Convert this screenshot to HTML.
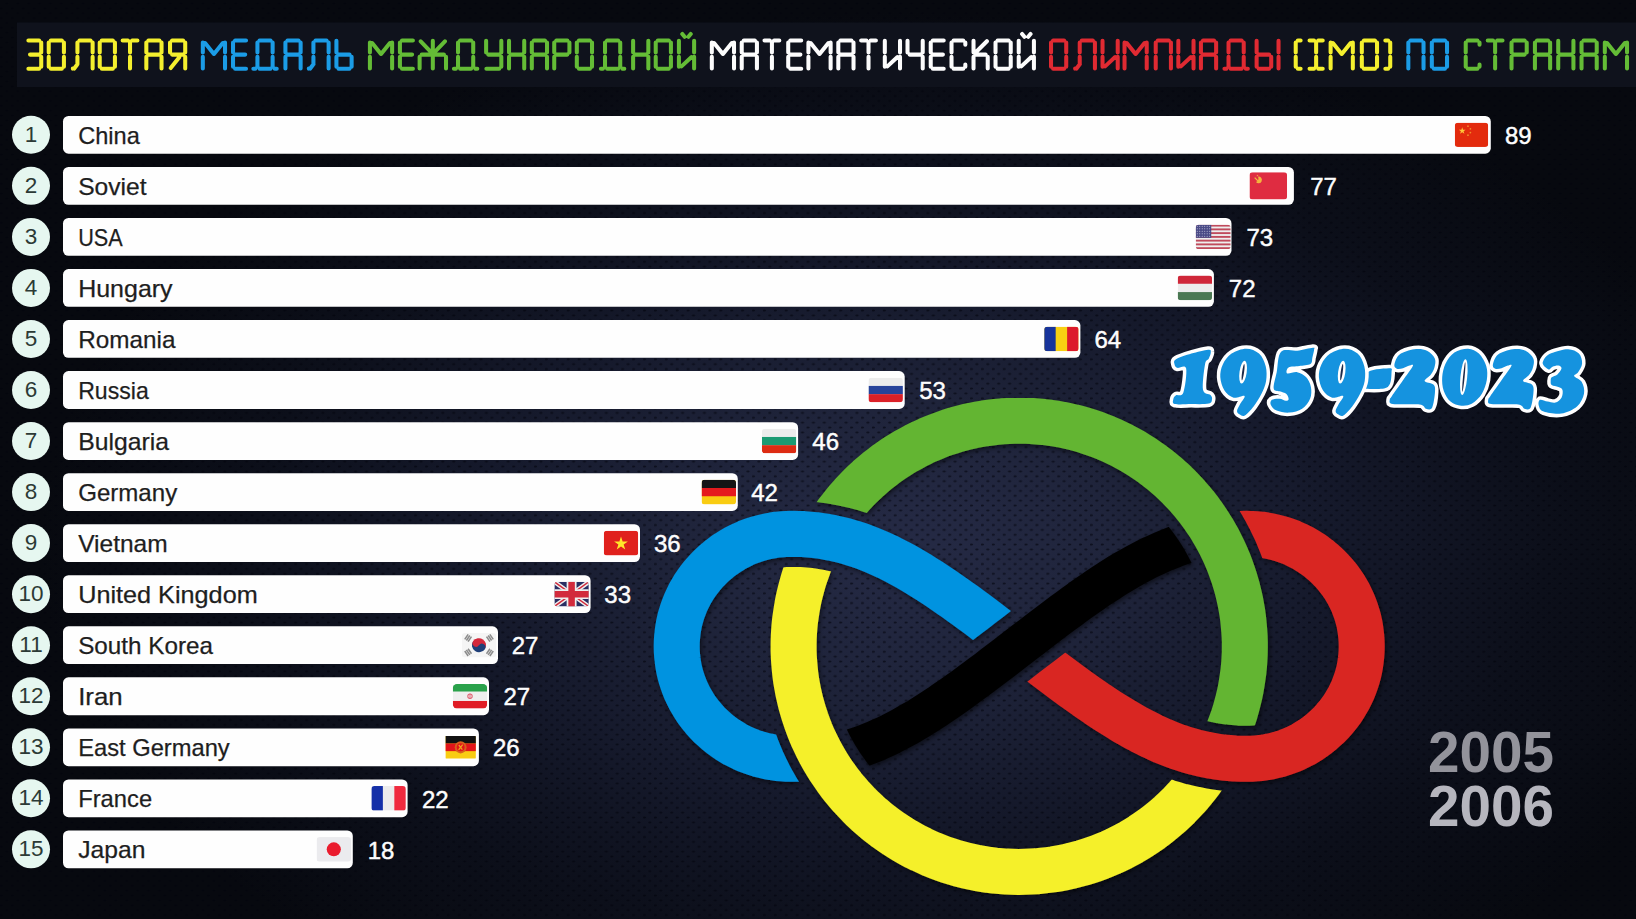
<!DOCTYPE html>
<html><head><meta charset="utf-8"><title>IMO gold medals by country</title>
<style>
html,body{margin:0;padding:0;background:#0a0d16;overflow:hidden}
svg{display:block;font-family:"Liberation Sans",sans-serif}
</style></head><body>
<svg width="1636" height="919" viewBox="0 0 1636 919" role="img">
<title>ЗОЛОТАЯ МЕДАЛЬ МЕЖДУНАРОДНОЙ МАТЕМАТИЧЕСКОЙ ОЛИМПИАДЫ (IMO) ПО СТРАНАМ</title>
<desc>Bar chart race of IMO gold medals by country, 1959-2023. Frame: 2005 / 2006.</desc>

<defs>
<radialGradient id="bgg" cx="900" cy="545" r="860" gradientUnits="userSpaceOnUse" gradientTransform="translate(900 545) scale(1 0.62) translate(-900 -545)">
<stop offset="0" stop-color="#252a45"/>
<stop offset="0.25" stop-color="#1f243b"/>
<stop offset="0.5" stop-color="#15192b"/>
<stop offset="0.75" stop-color="#0c0f1a"/>
<stop offset="1" stop-color="#07090f"/>
</radialGradient>
<pattern id="dots" x="0" y="0" width="10.9" height="9.75" patternUnits="userSpaceOnUse">
<ellipse cx="6.8" cy="3.45" rx="1.7" ry="1.05" fill="#01030c" fill-opacity="0.6"/>
<ellipse cx="1.35" cy="8.3" rx="1.7" ry="1.05" fill="#01030c" fill-opacity="0.6"/>
</pattern>
</defs><rect width="1636" height="919" fill="url(#bgg)"/>
<rect width="1636" height="919" fill="url(#dots)"/>
<rect x="17" y="22.5" width="1619" height="64.5" fill="#0f121c"/>
<defs>
<filter id="lsh" x="-5%" y="-5%" width="110%" height="110%"><feDropShadow dx="1.5" dy="2" stdDeviation="2.5" flood-color="#000" flood-opacity="0.55"/></filter>
<mask id="mGreen" maskUnits="userSpaceOnUse" x="600" y="350" width="850" height="569"><rect x="600" y="350" width="850" height="569" fill="#fff"/><path d="M958.2 600.5L952.5 596.4L946.8 592.5L941.2 588.6L935.6 584.9L930.1 581.3L924.6 577.8L919.1 574.4L913.7 571.1L908.2 567.9L902.8 564.9L897.4 562.0L892.0 559.3L886.7 556.6L881.3 554.1L875.9 551.7L870.5 549.5L865.1 547.4L859.7 545.4L854.2 543.6L848.8 542.0L843.3 540.4L837.7 539.1L832.2 537.9L826.5 536.8L820.9 535.9L815.2 535.1L809.4 534.6L803.6 534.1L797.7 533.9L791.7 533.8L787.0 533.9L782.3 534.2L777.6 534.6L773.0 535.3L768.5 536.1L764.1 537.1L759.7 538.2L755.4 539.5L751.1 541.0L746.9 542.6L742.9 544.4L738.9 546.4L734.9 548.4L731.1 550.7L727.4 553.0L723.8 555.5L720.3 558.1L716.9 560.9L713.6 563.8L710.4 566.7L707.3 569.9L704.4 573.1L701.6 576.4L698.9 579.9L696.3 583.4L693.9 587.0L691.7 590.8L689.5 594.6L687.6 598.5L685.7 602.5L684.1 606.6L682.6 610.7L681.2 615.0L680.0 619.3L679.0 623.6L678.2 628.1" stroke="#000" stroke-width="66.0" fill="none" stroke-linecap="butt" stroke-linejoin="round"/><path d="M1360.2 664.5L1359.4 669.0L1358.4 673.3L1357.2 677.6L1355.8 681.9L1354.3 686.0L1352.7 690.1L1350.8 694.1L1348.9 698.0L1346.7 701.8L1344.5 705.6L1342.1 709.2L1339.5 712.7L1336.8 716.2L1334.0 719.5L1331.1 722.7L1328.0 725.9L1324.8 728.8L1321.5 731.7L1318.1 734.5L1314.6 737.1L1311.0 739.6L1307.3 741.9L1303.5 744.2L1299.5 746.2L1295.5 748.2L1291.5 750.0L1287.3 751.6L1283.0 753.1L1278.7 754.4L1274.3 755.5L1269.9 756.5L1265.4 757.3L1260.8 758.0L1256.1 758.4L1251.4 758.7L1246.7 758.8L1240.7 758.7L1234.8 758.5L1229.0 758.0L1223.2 757.5L1217.5 756.7L1211.9 755.8L1206.2 754.7L1200.7 753.5L1195.1 752.2L1189.6 750.6L1184.2 749.0L1178.7 747.2L1173.3 745.2L1167.9 743.1L1162.5 740.9L1157.1 738.5L1151.7 736.0L1146.4 733.3L1141.0 730.6L1135.6 727.7L1130.2 724.7L1124.7 721.5L1119.3 718.2L1113.8 714.8L1108.3 711.3L1102.8 707.7L1097.2 704.0L1091.6 700.1L1085.9 696.2L1080.2 692.1" stroke="#000" stroke-width="66.0" fill="none" stroke-linecap="butt" stroke-linejoin="round"/></mask>
<mask id="mYellow" maskUnits="userSpaceOnUse" x="600" y="350" width="850" height="569"><rect x="600" y="350" width="850" height="569" fill="#fff"/><path d="M958.2 600.5L952.5 596.4L946.8 592.5L941.2 588.6L935.6 584.9L930.1 581.3L924.6 577.8L919.1 574.4L913.7 571.1L908.2 567.9L902.8 564.9L897.4 562.0L892.0 559.3L886.7 556.6L881.3 554.1L875.9 551.7L870.5 549.5L865.1 547.4L859.7 545.4L854.2 543.6L848.8 542.0L843.3 540.4L837.7 539.1L832.2 537.9L826.5 536.8L820.9 535.9L815.2 535.1L809.4 534.6L803.6 534.1L797.7 533.9L791.7 533.8L787.0 533.9L782.3 534.2L777.6 534.6L773.0 535.3L768.5 536.1L764.1 537.1L759.7 538.2L755.4 539.5L751.1 541.0L746.9 542.6L742.9 544.4L738.9 546.4L734.9 548.4L731.1 550.7L727.4 553.0L723.8 555.5L720.3 558.1L716.9 560.9L713.6 563.8L710.4 566.7L707.3 569.9L704.4 573.1L701.6 576.4L698.9 579.9L696.3 583.4L693.9 587.0L691.7 590.8L689.5 594.6L687.6 598.5L685.7 602.5L684.1 606.6L682.6 610.7L681.2 615.0L680.0 619.3L679.0 623.6L678.2 628.1" stroke="#000" stroke-width="66.0" fill="none" stroke-linecap="butt" stroke-linejoin="round"/><path d="M1360.2 664.5L1359.4 669.0L1358.4 673.3L1357.2 677.6L1355.8 681.9L1354.3 686.0L1352.7 690.1L1350.8 694.1L1348.9 698.0L1346.7 701.8L1344.5 705.6L1342.1 709.2L1339.5 712.7L1336.8 716.2L1334.0 719.5L1331.1 722.7L1328.0 725.9L1324.8 728.8L1321.5 731.7L1318.1 734.5L1314.6 737.1L1311.0 739.6L1307.3 741.9L1303.5 744.2L1299.5 746.2L1295.5 748.2L1291.5 750.0L1287.3 751.6L1283.0 753.1L1278.7 754.4L1274.3 755.5L1269.9 756.5L1265.4 757.3L1260.8 758.0L1256.1 758.4L1251.4 758.7L1246.7 758.8L1240.7 758.7L1234.8 758.5L1229.0 758.0L1223.2 757.5L1217.5 756.7L1211.9 755.8L1206.2 754.7L1200.7 753.5L1195.1 752.2L1189.6 750.6L1184.2 749.0L1178.7 747.2L1173.3 745.2L1167.9 743.1L1162.5 740.9L1157.1 738.5L1151.7 736.0L1146.4 733.3L1141.0 730.6L1135.6 727.7L1130.2 724.7L1124.7 721.5L1119.3 718.2L1113.8 714.8L1108.3 711.3L1102.8 707.7L1097.2 704.0L1091.6 700.1L1085.9 696.2L1080.2 692.1" stroke="#000" stroke-width="66.0" fill="none" stroke-linecap="butt" stroke-linejoin="round"/></mask>
<mask id="mBlue" maskUnits="userSpaceOnUse" x="600" y="350" width="850" height="569"><rect x="600" y="350" width="850" height="569" fill="#fff"/><path d="M837.7 753.5L843.3 752.1L848.9 750.6L854.5 748.9L860.0 747.0L865.5 745.0L871.0 742.9L876.5 740.6L882.0 738.2L887.4 735.6L892.9 732.9L898.4 730.1L903.9 727.1L909.4 724.0L914.9 720.8L920.4 717.4L926.0 714.0L931.6 710.4L937.2 706.7L942.9 702.8L948.6 698.9L954.4 694.9L960.2 690.7L966.1 686.4L972.1 682.1L978.1 677.6L984.2 673.1L990.3 668.4L996.6 663.6L1002.9 658.8L1009.4 653.9L1015.9 648.8L1022.5 643.8L1029.0 638.7L1035.5 633.8L1041.8 629.0L1048.1 624.2L1054.2 619.5L1060.3 615.0L1066.3 610.5L1072.3 606.2L1078.2 601.9L1084.0 597.7L1089.8 593.7L1095.5 589.8L1101.2 585.9L1106.8 582.2L1112.4 578.6L1118.0 575.2L1123.5 571.8L1129.0 568.6L1134.5 565.5L1140.0 562.5L1145.5 559.7L1151.0 557.0L1156.4 554.4L1161.9 552.0L1167.4 549.7L1172.9 547.6L1178.4 545.6L1183.9 543.7L1189.5 542.0L1195.1 540.5L1200.7 539.1" stroke="#000" stroke-width="66.0" fill="none" stroke-linecap="butt" stroke-linejoin="round"/><path d="M794.5 626.6L794.0 632.6L793.7 638.6L793.6 644.7L793.6 650.7L793.8 656.7L794.2 662.7L794.7 668.7L795.4 674.7L796.2 680.6L797.2 686.6L798.4 692.5L799.7 698.3L801.1 704.2L802.8 710.0L804.5 715.7L806.5 721.4L808.5 727.0L810.8 732.6L813.1 738.2L815.7 743.6L818.3 749.0L821.1 754.3L824.1 759.6L827.2 764.7L830.4 769.8L833.8 774.8L837.3 779.7L840.9 784.5L844.6 789.2L848.5 793.8L852.5 798.3L856.6 802.7L860.8 807.0L865.2 811.1L869.6 815.2L874.2 819.1" stroke="#000" stroke-width="66.0" fill="none" stroke-linecap="butt" stroke-linejoin="round"/></mask>
<mask id="mRed" maskUnits="userSpaceOnUse" x="600" y="350" width="850" height="569"><rect x="600" y="350" width="850" height="569" fill="#fff"/><path d="M837.7 753.5L843.3 752.1L848.9 750.6L854.5 748.9L860.0 747.0L865.5 745.0L871.0 742.9L876.5 740.6L882.0 738.2L887.4 735.6L892.9 732.9L898.4 730.1L903.9 727.1L909.4 724.0L914.9 720.8L920.4 717.4L926.0 714.0L931.6 710.4L937.2 706.7L942.9 702.8L948.6 698.9L954.4 694.9L960.2 690.7L966.1 686.4L972.1 682.1L978.1 677.6L984.2 673.1L990.3 668.4L996.6 663.6L1002.9 658.8L1009.4 653.9L1015.9 648.8L1022.5 643.8L1029.0 638.7L1035.5 633.8L1041.8 629.0L1048.1 624.2L1054.2 619.5L1060.3 615.0L1066.3 610.5L1072.3 606.2L1078.2 601.9L1084.0 597.7L1089.8 593.7L1095.5 589.8L1101.2 585.9L1106.8 582.2L1112.4 578.6L1118.0 575.2L1123.5 571.8L1129.0 568.6L1134.5 565.5L1140.0 562.5L1145.5 559.7L1151.0 557.0L1156.4 554.4L1161.9 552.0L1167.4 549.7L1172.9 547.6L1178.4 545.6L1183.9 543.7L1189.5 542.0L1195.1 540.5L1200.7 539.1" stroke="#000" stroke-width="66.0" fill="none" stroke-linecap="butt" stroke-linejoin="round"/><path d="M1164.2 473.5L1168.8 477.4L1173.2 481.5L1177.6 485.6L1181.8 489.9L1185.9 494.3L1189.9 498.8L1193.8 503.4L1197.5 508.1L1201.1 512.9L1204.6 517.8L1208.0 522.8L1211.2 527.9L1214.3 533.0L1217.3 538.3L1220.1 543.6L1222.7 549.0L1225.3 554.4L1227.6 560.0L1229.9 565.6L1231.9 571.2L1233.9 576.9L1235.6 582.6L1237.3 588.4L1238.7 594.3L1240.0 600.1L1241.2 606.0L1242.2 612.0L1243.0 617.9L1243.7 623.9L1244.2 629.9L1244.6 635.9L1244.8 641.9L1244.8 647.9L1244.7 654.0L1244.4 660.0L1243.9 666.0" stroke="#000" stroke-width="66.0" fill="none" stroke-linecap="butt" stroke-linejoin="round"/></mask>
<clipPath id="cBlack"><circle cx="1019.2" cy="646.3" r="191.5"/></clipPath>
</defs>
<g filter="url(#lsh)">
<path d="M818.2 543.9L820.9 538.6L823.8 533.5L826.9 528.4L830.0 523.4L833.3 518.5L836.7 513.6L840.3 508.9L844.0 504.2L847.7 499.7L851.7 495.2L855.7 490.9L859.8 486.6L864.1 482.5L868.4 478.5L872.9 474.6L877.4 470.8L882.1 467.2L886.8 463.6L891.7 460.2L896.6 456.9L901.6 453.8L906.7 450.7L911.9 447.9L917.1 445.1L922.4 442.5L927.8 440.0L933.3 437.7L938.8 435.5L944.3 433.5L949.9 431.6L955.6 429.8L961.3 428.3L967.0 426.8L972.8 425.5L978.6 424.4L984.5 423.4L990.3 422.6L996.2 421.9L1002.1 421.3L1008.0 421.0L1014.0 420.8L1019.9 420.7L1025.8 420.8L1031.7 421.0L1037.6 421.5L1043.5 422.0L1049.4 422.7L1055.3 423.6L1061.1 424.6L1066.9 425.8L1072.7 427.1L1078.4 428.6L1084.1 430.2L1089.7 432.0L1095.3 433.9L1100.9 436.0L1106.4 438.2L1111.8 440.6L1117.2 443.1L1122.5 445.7L1127.7 448.5L1132.9 451.4L1137.9 454.5L1142.9 457.7L1147.8 461.0L1152.7 464.4L1157.4 468.0L1162.0 471.7L1166.6 475.5L1171.0 479.4L1175.3 483.4L1179.5 487.6L1183.6 491.9L1187.6 496.2L1191.5 500.7L1195.3 505.3L1198.9 509.9L1202.4 514.7L1205.8 519.6L1209.1 524.5L1212.2 529.5L1215.2 534.6L1218.1 539.8L1220.8 545.1L1223.4 550.4L1225.9 555.8L1228.2 561.3L1230.3 566.8L1232.3 572.3L1234.2 578.0L1235.9 583.6L1237.5 589.3L1238.9 595.1L1240.2 600.9L1241.3 606.7L1242.3 612.5L1243.1 618.4L1243.7 624.3L1244.2 630.2L1244.6 636.1L1244.8 642.0L1244.8 647.9L1244.7 653.9L1244.4 659.8L1244.0 665.7L1243.4 671.6L1242.6 677.4L1241.7 683.3L1240.7 689.1L1239.5 694.9L1238.1 700.7L1236.6 706.4L1235.0 712.1L1233.2 717.7L1231.2 723.3L1229.1 728.9L1226.9 734.4L1224.5 739.8L1222.0 745.1L1219.3 750.4L1216.5 755.6L1213.6 760.8L1210.5 765.8" stroke="#64b532" stroke-width="46.0" fill="none" stroke-linecap="butt" stroke-linejoin="round" mask="url(#mGreen)"/>
<path d="M827.9 526.8L824.8 531.8L821.9 537.0L819.1 542.2L816.4 547.5L813.9 552.8L811.5 558.2L809.3 563.7L807.2 569.3L805.2 574.9L803.4 580.5L801.8 586.2L800.3 591.9L798.9 597.7L797.7 603.5L796.7 609.3L795.8 615.2L795.0 621.0L794.4 626.9L794.0 632.8L793.7 638.7L793.6 644.7L793.6 650.6L793.8 656.5L794.2 662.4L794.7 668.3L795.3 674.2L796.1 680.1L797.1 685.9L798.2 691.7L799.5 697.5L800.9 703.3L802.5 709.0L804.2 714.6L806.1 720.3L808.1 725.8L810.2 731.3L812.5 736.8L815.0 742.2L817.6 747.5L820.3 752.8L823.2 758.0L826.2 763.1L829.3 768.1L832.6 773.0L836.0 777.9L839.5 782.7L843.1 787.3L846.9 791.9L850.8 796.4L854.8 800.7L858.9 805.0L863.1 809.2L867.4 813.2L871.8 817.1L876.4 820.9L881.0 824.6L885.7 828.2L890.6 831.6L895.5 834.9L900.5 838.1L905.5 841.2L910.7 844.1L915.9 846.9L921.2 849.5L926.6 852.0L932.0 854.4L937.5 856.6L943.1 858.7L948.7 860.6L954.3 862.4L960.0 864.0L965.7 865.5L971.5 866.8L977.3 868.0L983.1 869.0L989.0 869.9L994.9 870.6L1000.8 871.1L1006.7 871.6L1012.6 871.8L1018.5 871.9L1024.4 871.8L1030.4 871.6L1036.3 871.3L1042.2 870.7L1048.1 870.0L1053.9 869.2L1059.8 868.2L1065.6 867.1L1071.4 865.8L1077.1 864.3L1082.8 862.8L1088.5 861.0L1094.1 859.1L1099.6 857.1L1105.1 854.9L1110.6 852.6L1116.0 850.1L1121.3 847.5L1126.5 844.7L1131.7 841.9L1136.8 838.8L1141.8 835.7L1146.7 832.4L1151.6 829.0L1156.3 825.4L1161.0 821.8L1165.5 818.0L1170.0 814.1L1174.3 810.1L1178.6 806.0L1182.7 801.7L1186.7 797.4L1190.7 792.9L1194.4 788.4L1198.1 783.7L1201.7 779.0L1205.1 774.1L1208.4 769.2L1211.5 764.2L1214.6 759.1L1217.5 754.0L1220.2 748.7" stroke="#f5f02a" stroke-width="46.0" fill="none" stroke-linecap="butt" stroke-linejoin="round" mask="url(#mYellow)"/>
<path d="M1019.2 646.3L1012.7 641.3L1006.3 636.4L1000.1 631.6L993.8 626.9L987.7 622.2L981.7 617.7L975.7 613.2L969.8 608.9L964.0 604.6L958.2 600.5L952.5 596.4L946.8 592.5L941.2 588.6L935.6 584.9L930.1 581.3L924.6 577.8L919.1 574.4L913.7 571.1L908.2 567.9L902.8 564.9L897.4 562.0L892.0 559.3L886.7 556.6L881.3 554.1L875.9 551.7L870.5 549.5L865.1 547.4L859.7 545.4L854.2 543.6L848.8 542.0L843.3 540.4L837.7 539.1L832.2 537.9L826.5 536.8L820.9 535.9L815.2 535.1L809.4 534.6L803.6 534.1L797.7 533.9L791.7 533.8L787.0 533.9L782.3 534.2L777.6 534.6L773.0 535.3L768.5 536.1L764.1 537.1L759.7 538.2L755.4 539.5L751.1 541.0L746.9 542.6L742.9 544.4L738.9 546.4L734.9 548.4L731.1 550.7L727.4 553.0L723.8 555.5L720.3 558.1L716.9 560.9L713.6 563.8L710.4 566.7L707.3 569.9L704.4 573.1L701.6 576.4L698.9 579.9L696.3 583.4L693.9 587.0L691.7 590.8L689.5 594.6L687.6 598.5L685.7 602.5L684.1 606.6L682.6 610.7L681.2 615.0L680.0 619.3L679.0 623.6L678.2 628.1L677.6 632.5L677.1 637.1L676.8 641.7L676.7 646.3L676.8 650.9L677.1 655.5L677.6 660.1L678.2 664.5L679.0 669.0L680.0 673.3L681.2 677.6L682.6 681.9L684.1 686.0L685.7 690.1L687.6 694.1L689.5 698.0L691.7 701.8L693.9 705.6L696.3 709.2L698.9 712.7L701.6 716.2L704.4 719.5L707.3 722.7L710.4 725.9L713.6 728.8L716.9 731.7L720.3 734.5L723.8 737.1L727.4 739.6L731.1 741.9L734.9 744.2L738.9 746.2L742.9 748.2L746.9 750.0L751.1 751.6L755.4 753.1L759.7 754.4L764.1 755.5L768.5 756.5L773.0 757.3L777.6 758.0L782.3 758.4L787.0 758.7L791.7 758.8L797.7 758.7L803.6 758.5L809.4 758.0L815.2 757.5L820.9 756.7L826.5 755.8L832.2 754.7L837.7 753.5L843.3 752.2L848.8 750.6L854.2 749.0L859.7 747.2L865.1 745.2L870.5 743.1" stroke="#0393e0" stroke-width="46.0" fill="none" stroke-linecap="butt" stroke-linejoin="round" mask="url(#mBlue)"/>
<path d="M1167.9 549.5L1173.3 547.4L1178.7 545.4L1184.2 543.6L1189.6 542.0L1195.1 540.4L1200.7 539.1L1206.2 537.9L1211.9 536.8L1217.5 535.9L1223.2 535.1L1229.0 534.6L1234.8 534.1L1240.7 533.9L1246.7 533.8L1251.4 533.9L1256.1 534.2L1260.8 534.6L1265.4 535.3L1269.9 536.1L1274.3 537.1L1278.7 538.2L1283.0 539.5L1287.3 541.0L1291.5 542.6L1295.5 544.4L1299.5 546.4L1303.5 548.4L1307.3 550.7L1311.0 553.0L1314.6 555.5L1318.1 558.1L1321.5 560.9L1324.8 563.8L1328.0 566.7L1331.1 569.9L1334.0 573.1L1336.8 576.4L1339.5 579.9L1342.1 583.4L1344.5 587.0L1346.7 590.8L1348.9 594.6L1350.8 598.5L1352.7 602.5L1354.3 606.6L1355.8 610.7L1357.2 615.0L1358.4 619.3L1359.4 623.6L1360.2 628.1L1360.8 632.5L1361.3 637.1L1361.6 641.7L1361.7 646.3L1361.6 650.9L1361.3 655.5L1360.8 660.1L1360.2 664.5L1359.4 669.0L1358.4 673.3L1357.2 677.6L1355.8 681.9L1354.3 686.0L1352.7 690.1L1350.8 694.1L1348.9 698.0L1346.7 701.8L1344.5 705.6L1342.1 709.2L1339.5 712.7L1336.8 716.2L1334.0 719.5L1331.1 722.7L1328.0 725.9L1324.8 728.8L1321.5 731.7L1318.1 734.5L1314.6 737.1L1311.0 739.6L1307.3 741.9L1303.5 744.2L1299.5 746.2L1295.5 748.2L1291.5 750.0L1287.3 751.6L1283.0 753.1L1278.7 754.4L1274.3 755.5L1269.9 756.5L1265.4 757.3L1260.8 758.0L1256.1 758.4L1251.4 758.7L1246.7 758.8L1240.7 758.7L1234.8 758.5L1229.0 758.0L1223.2 757.5L1217.5 756.7L1211.9 755.8L1206.2 754.7L1200.7 753.5L1195.1 752.2L1189.6 750.6L1184.2 749.0L1178.7 747.2L1173.3 745.2L1167.9 743.1L1162.5 740.9L1157.1 738.5L1151.7 736.0L1146.4 733.3L1141.0 730.6L1135.6 727.7L1130.2 724.7L1124.7 721.5L1119.3 718.2L1113.8 714.8L1108.3 711.3L1102.8 707.7L1097.2 704.0L1091.6 700.1L1085.9 696.2L1080.2 692.1L1074.4 688.0L1068.6 683.7L1062.7 679.4L1056.7 674.9L1050.7 670.4L1044.6 665.7L1038.3 661.0L1032.1 656.2L1025.7 651.3L1019.2 646.3" stroke="#d92623" stroke-width="46.0" fill="none" stroke-linecap="butt" stroke-linejoin="round" mask="url(#mRed)"/>
<path d="M819.7 756.9L825.4 756.0L831.1 755.0L836.7 753.8L842.3 752.4L847.8 750.9L853.3 749.3L858.8 747.5L864.3 745.5L869.7 743.4L875.1 741.2L880.5 738.8L886.0 736.3L891.4 733.7L896.8 730.9L902.2 728.0L907.6 725.0L913.1 721.8L918.6 718.6L924.1 715.2L929.6 711.6L935.2 708.0L940.8 704.3L946.4 700.4L952.1 696.4L957.9 692.4L963.7 688.2L969.5 683.9L975.5 679.5L981.5 675.1L987.6 670.5L993.7 665.8L999.9 661.1L1006.3 656.2L1012.7 651.3L1019.2 646.3L1025.7 641.3L1032.1 636.4L1038.5 631.5L1044.7 626.8L1050.8 622.1L1056.9 617.5L1062.9 613.1L1068.9 608.7L1074.7 604.4L1080.5 600.2L1086.3 596.2L1092.0 592.2L1097.6 588.3L1103.2 584.6L1108.8 581.0L1114.3 577.4L1119.8 574.0L1125.3 570.8L1130.8 567.6L1136.2 564.6L1141.6 561.7L1147.0 558.9L1152.4 556.3L1157.9 553.8L1163.3 551.4L1168.7 549.2L1174.1 547.1L1179.6 545.1L1185.1 543.3L1190.6 541.7L1196.1 540.2L1201.7 538.8L1207.3 537.6L1213.0 536.6L1218.7 535.7" stroke="#000000" stroke-width="41.5" fill="none" stroke-linecap="butt" stroke-linejoin="round" clip-path="url(#cBlack)"/>
</g>
<path d="M28.38 40.40L39.12 40.40M41.23 42.50L41.23 52.50M41.23 56.70L41.23 66.70M39.12 68.80L28.38 68.80M30.02 54.60L39.12 54.60M50.83 40.40L61.83 40.40M63.92 42.50L63.92 52.50M63.92 56.70L63.92 66.70M61.83 68.80L50.83 68.80M48.73 66.70L48.73 56.70M48.73 52.50L48.73 42.50M79.53 40.40L90.53 40.40M92.63 42.50L92.63 52.50M92.63 56.70L92.63 68.55M77.43 42.50L77.43 52.50M77.43 56.70L77.43 64.30M77.43 64.30L74.23 68.50M74.23 68.50L72.83 68.60M101.83 40.40L112.83 40.40M114.93 42.50L114.93 52.50M114.93 56.70L114.93 66.70M112.83 68.80L101.83 68.80M99.73 66.70L99.73 56.70M99.73 52.50L99.73 42.50M130.03 42.50L130.03 52.50M130.03 56.70L130.03 68.55M122.63 40.40L127.93 40.40M132.12 40.40L137.43 40.40M148.43 40.40L159.43 40.40M161.53 42.50L161.53 52.50M161.53 56.70L161.53 68.55M146.33 42.50L146.33 52.50M146.33 56.70L146.33 68.55M148.43 54.60L159.43 54.60M172.12 40.40L183.12 40.40M185.22 42.50L185.22 52.50M185.22 56.70L185.22 68.55M170.03 42.50L170.03 52.50M172.12 54.60L183.12 54.60M179.31 57.14L170.70 68.03" stroke="#f4ef2e" stroke-width="4.05" stroke-linecap="round" fill="none"/>
<path d="M202.83 42.50L202.83 52.50M202.83 56.70L202.83 68.55M225.03 42.50L225.03 52.50M225.03 56.70L225.03 68.55M205.05 43.03L213.67 53.79M222.80 43.03L214.18 53.79M233.03 42.50L233.03 52.50M233.03 56.70L233.03 66.70M235.12 40.40L246.03 40.40M235.12 68.80L246.03 68.80M235.12 54.60L245.22 54.60M259.53 40.40L270.53 40.40M272.62 42.50L272.62 52.50M272.62 56.70L272.62 66.70M257.43 42.50L257.43 52.50M257.43 56.70L257.43 66.70M259.53 68.80L270.53 68.80M253.33 68.80L255.33 68.80M274.73 68.80L276.73 68.80M287.52 40.40L298.52 40.40M300.62 42.50L300.62 52.50M300.62 56.70L300.62 68.55M285.42 42.50L285.42 52.50M285.42 56.70L285.42 68.55M287.52 54.60L298.52 54.60M315.52 40.40L326.52 40.40M328.62 42.50L328.62 52.50M328.62 56.70L328.62 68.55M313.42 42.50L313.42 52.50M313.42 56.70L313.42 64.30M313.42 64.30L310.22 68.50M310.22 68.50L308.82 68.60M336.42 40.65L336.42 52.50M336.42 56.70L336.42 66.70M338.52 54.60L349.52 54.60M351.62 56.70L351.62 66.70M349.52 68.80L338.52 68.80" stroke="#1b9ce6" stroke-width="4.05" stroke-linecap="round" fill="none"/>
<path d="M369.92 42.50L369.92 52.50M369.92 56.70L369.92 68.55M392.12 42.50L392.12 52.50M392.12 56.70L392.12 68.55M372.15 43.03L380.77 53.79M389.90 43.03L381.28 53.79M399.92 42.50L399.92 52.50M399.92 56.70L399.92 66.70M402.02 40.40L412.92 40.40M402.02 68.80L412.92 68.80M402.02 54.60L412.12 54.60M432.82 40.70L432.82 52.50M419.62 56.70L419.62 68.55M432.82 56.70L432.82 68.55M446.02 56.70L446.02 68.55M421.73 54.60L430.73 54.60M434.93 54.60L443.93 54.60M420.72 41.32L431.03 52.12M444.93 41.32L434.62 52.12M460.12 40.40L471.12 40.40M473.22 42.50L473.22 52.50M473.22 56.70L473.22 66.70M458.02 42.50L458.02 52.50M458.02 56.70L458.02 66.70M460.12 68.80L471.12 68.80M453.92 68.80L455.92 68.80M475.32 68.80L477.32 68.80M486.12 40.65L486.12 52.50M488.23 54.60L499.23 54.60M501.32 40.65L501.32 52.50M501.32 56.70L501.32 66.70M499.23 68.80L486.38 68.80M509.02 40.65L509.02 52.50M509.02 56.70L509.02 68.55M524.23 40.65L524.23 52.50M524.23 56.70L524.23 68.55M511.12 54.60L522.12 54.60M533.92 40.40L544.92 40.40M547.02 42.50L547.02 52.50M547.02 56.70L547.02 68.55M531.82 42.50L531.82 52.50M531.82 56.70L531.82 68.55M533.92 54.60L544.92 54.60M556.33 40.40L567.33 40.40M569.43 42.50L569.43 52.50M556.33 54.60L567.33 54.60M554.23 42.50L554.23 52.50M554.23 56.70L554.23 68.55M578.92 40.40L589.92 40.40M592.02 42.50L592.02 52.50M592.02 56.70L592.02 66.70M589.92 68.80L578.92 68.80M576.82 66.70L576.82 56.70M576.82 52.50L576.82 42.50M607.12 40.40L618.12 40.40M620.23 42.50L620.23 52.50M620.23 56.70L620.23 66.70M605.02 42.50L605.02 52.50M605.02 56.70L605.02 66.70M607.12 68.80L618.12 68.80M600.92 68.80L602.92 68.80M622.32 68.80L624.32 68.80M633.12 40.65L633.12 52.50M633.12 56.70L633.12 68.55M648.33 40.65L648.33 52.50M648.33 56.70L648.33 68.55M635.23 54.60L646.23 54.60M657.83 40.40L668.83 40.40M670.93 42.50L670.93 52.50M670.93 56.70L670.93 66.70M668.83 68.80L657.83 68.80M655.73 66.70L655.73 56.70M655.73 52.50L655.73 42.50M678.92 40.65L678.92 52.50M678.92 56.70L678.92 66.70M694.12 40.65L694.12 52.50M694.12 56.70L694.12 68.55M681.49 66.37L691.56 57.03M682.32 34.00L684.62 36.80M690.72 34.00L688.42 36.80" stroke="#64bc36" stroke-width="4.05" stroke-linecap="round" fill="none"/>
<path d="M711.82 42.50L711.82 52.50M711.82 56.70L711.82 68.55M734.02 42.50L734.02 52.50M734.02 56.70L734.02 68.55M714.05 43.03L722.67 53.79M731.80 43.03L723.18 53.79M743.83 40.40L754.83 40.40M756.93 42.50L756.93 52.50M756.93 56.70L756.93 68.55M741.73 42.50L741.73 52.50M741.73 56.70L741.73 68.55M743.83 54.60L754.83 54.60M771.92 42.50L771.92 52.50M771.92 56.70L771.92 68.55M764.52 40.40L769.82 40.40M774.02 40.40L779.32 40.40M788.23 42.50L788.23 52.50M788.23 56.70L788.23 66.70M790.33 40.40L801.23 40.40M790.33 68.80L801.23 68.80M790.33 54.60L800.43 54.60M808.42 42.50L808.42 52.50M808.42 56.70L808.42 68.55M830.62 42.50L830.62 52.50M830.62 56.70L830.62 68.55M810.65 43.03L819.27 53.79M828.40 43.03L819.78 53.79M840.42 40.40L851.42 40.40M853.52 42.50L853.52 52.50M853.52 56.70L853.52 68.55M838.32 42.50L838.32 52.50M838.32 56.70L838.32 68.55M840.42 54.60L851.42 54.60M868.52 42.50L868.52 52.50M868.52 56.70L868.52 68.55M861.12 40.40L866.42 40.40M870.62 40.40L875.92 40.40M884.82 40.65L884.82 52.50M884.82 56.70L884.82 66.70M900.02 40.65L900.02 52.50M900.02 56.70L900.02 68.55M887.39 66.37L897.46 57.03M907.52 40.65L907.52 52.50M909.62 54.60L920.62 54.60M922.73 40.65L922.73 52.50M922.73 56.70L922.73 68.55M930.73 42.50L930.73 52.50M930.73 56.70L930.73 66.70M932.83 40.40L943.73 40.40M932.83 68.80L943.73 68.80M932.83 54.60L942.93 54.60M953.62 40.40L963.23 40.40M951.52 42.50L951.52 52.50M951.52 56.70L951.52 66.70M953.62 68.80L963.23 68.80M965.32 42.50L965.32 44.70M965.32 66.70L965.32 64.50M973.52 40.65L973.52 52.50M973.52 56.70L973.52 68.55M975.62 54.60L985.62 54.60M987.73 56.70L987.73 68.55M986.90 41.22L976.36 51.76M997.62 40.40L1008.62 40.40M1010.73 42.50L1010.73 52.50M1010.73 56.70L1010.73 66.70M1008.62 68.80L997.62 68.80M995.52 66.70L995.52 56.70M995.52 52.50L995.52 42.50M1018.73 40.65L1018.73 52.50M1018.73 56.70L1018.73 66.70M1033.92 40.65L1033.92 52.50M1033.92 56.70L1033.92 68.55M1021.29 66.37L1031.36 57.03M1022.12 34.00L1024.42 36.80M1030.53 34.00L1028.22 36.80" stroke="#fcfcfc" stroke-width="4.05" stroke-linecap="round" fill="none"/>
<path d="M1053.12 40.40L1064.12 40.40M1066.23 42.50L1066.23 52.50M1066.23 56.70L1066.23 66.70M1064.12 68.80L1053.12 68.80M1051.03 66.70L1051.03 56.70M1051.03 52.50L1051.03 42.50M1081.83 40.40L1092.83 40.40M1094.93 42.50L1094.93 52.50M1094.93 56.70L1094.93 68.55M1079.73 42.50L1079.73 52.50M1079.73 56.70L1079.73 64.30M1079.73 64.30L1076.53 68.50M1076.53 68.50L1075.13 68.60M1102.53 40.65L1102.53 52.50M1102.53 56.70L1102.53 66.70M1117.73 40.65L1117.73 52.50M1117.73 56.70L1117.73 68.55M1105.09 66.37L1115.16 57.03M1124.53 42.50L1124.53 52.50M1124.53 56.70L1124.53 68.55M1146.73 42.50L1146.73 52.50M1146.73 56.70L1146.73 68.55M1126.75 43.03L1135.37 53.79M1144.50 43.03L1135.88 53.79M1157.83 40.40L1168.83 40.40M1155.73 42.50L1155.73 52.50M1155.73 56.70L1155.73 68.55M1170.93 42.50L1170.93 52.50M1170.93 56.70L1170.93 68.55M1178.33 40.65L1178.33 52.50M1178.33 56.70L1178.33 66.70M1193.53 40.65L1193.53 52.50M1193.53 56.70L1193.53 68.55M1180.89 66.37L1190.96 57.03M1203.03 40.40L1214.03 40.40M1216.13 42.50L1216.13 52.50M1216.13 56.70L1216.13 68.55M1200.93 42.50L1200.93 52.50M1200.93 56.70L1200.93 68.55M1203.03 54.60L1214.03 54.60M1230.62 40.40L1241.62 40.40M1243.73 42.50L1243.73 52.50M1243.73 56.70L1243.73 66.70M1228.53 42.50L1228.53 52.50M1228.53 56.70L1228.53 66.70M1230.62 68.80L1241.62 68.80M1224.43 68.80L1226.43 68.80M1245.83 68.80L1247.83 68.80M1256.62 40.65L1256.62 52.50M1256.62 56.70L1256.62 66.70M1258.72 54.60L1269.12 54.60M1271.22 56.70L1271.22 66.70M1269.12 68.80L1258.72 68.80M1278.53 40.70L1278.53 52.50M1278.53 56.70L1278.53 68.50" stroke="#e02a32" stroke-width="4.05" stroke-linecap="round" fill="none"/>
<path d="M1295.73 42.50L1295.73 52.50M1295.73 56.70L1295.73 66.70M1297.83 40.40L1300.63 40.40M1297.83 68.80L1300.63 68.80M1316.13 42.50L1316.13 52.50M1316.13 56.70L1316.13 66.70M1309.53 40.40L1314.03 40.40M1318.23 40.40L1322.73 40.40M1309.53 68.80L1314.03 68.80M1318.23 68.80L1322.73 68.80M1330.62 42.50L1330.62 52.50M1330.62 56.70L1330.62 68.55M1352.83 42.50L1352.83 52.50M1352.83 56.70L1352.83 68.55M1332.85 43.03L1341.47 53.79M1350.60 43.03L1341.98 53.79M1363.92 40.40L1374.92 40.40M1377.03 42.50L1377.03 52.50M1377.03 56.70L1377.03 66.70M1374.92 68.80L1363.92 68.80M1361.83 66.70L1361.83 56.70M1361.83 52.50L1361.83 42.50M1390.23 42.50L1390.23 52.50M1390.23 56.70L1390.23 66.70M1388.12 40.40L1385.33 40.40M1388.12 68.80L1385.33 68.80" stroke="#f4ef2e" stroke-width="4.05" stroke-linecap="round" fill="none"/>
<path d="M1410.42 40.40L1421.42 40.40M1408.33 42.50L1408.33 52.50M1408.33 56.70L1408.33 68.55M1423.53 42.50L1423.53 52.50M1423.53 56.70L1423.53 68.55M1433.92 40.40L1444.92 40.40M1447.03 42.50L1447.03 52.50M1447.03 56.70L1447.03 66.70M1444.92 68.80L1433.92 68.80M1431.83 66.70L1431.83 56.70M1431.83 52.50L1431.83 42.50" stroke="#1b9ce6" stroke-width="4.05" stroke-linecap="round" fill="none"/>
<path d="M1467.83 40.40L1477.43 40.40M1465.73 42.50L1465.73 52.50M1465.73 56.70L1465.73 66.70M1467.83 68.80L1477.43 68.80M1479.53 42.50L1479.53 44.70M1479.53 66.70L1479.53 64.50M1495.12 42.50L1495.12 52.50M1495.12 56.70L1495.12 68.55M1487.73 40.40L1493.03 40.40M1497.23 40.40L1502.53 40.40M1513.62 40.40L1524.62 40.40M1526.73 42.50L1526.73 52.50M1513.62 54.60L1524.62 54.60M1511.53 42.50L1511.53 52.50M1511.53 56.70L1511.53 68.55M1537.03 40.40L1548.03 40.40M1550.13 42.50L1550.13 52.50M1550.13 56.70L1550.13 68.55M1534.93 42.50L1534.93 52.50M1534.93 56.70L1534.93 68.55M1537.03 54.60L1548.03 54.60M1558.23 40.65L1558.23 52.50M1558.23 56.70L1558.23 68.55M1573.43 40.65L1573.43 52.50M1573.43 56.70L1573.43 68.55M1560.33 54.60L1571.33 54.60M1583.62 40.40L1594.62 40.40M1596.73 42.50L1596.73 52.50M1596.73 56.70L1596.73 68.55M1581.53 42.50L1581.53 52.50M1581.53 56.70L1581.53 68.55M1583.62 54.60L1594.62 54.60M1604.83 42.50L1604.83 52.50M1604.83 56.70L1604.83 68.55M1627.03 42.50L1627.03 52.50M1627.03 56.70L1627.03 68.55M1607.05 43.03L1615.67 53.79M1624.80 43.03L1616.18 53.79" stroke="#64bc36" stroke-width="4.05" stroke-linecap="round" fill="none"/>
<circle cx="31" cy="134.80" r="19" fill="#e6f7f0"/>
<text x="31" y="141.75" text-anchor="middle" font-size="22.5" fill="#2c3a35">1</text>
<rect x="63.0" y="115.90" width="1427.8" height="37.8" rx="5.5" fill="#fefefe"/>
<text x="78.2" y="143.90" font-size="23.6" fill="#1e1e1e" stroke="#1e1e1e" stroke-width="0.25" textLength="61.6" lengthAdjust="spacingAndGlyphs">China</text>
<text x="1504.9" y="144.00" font-size="24" fill="#fdfdfd" stroke="#fdfdfd" stroke-width="0.45">89</text>
<circle cx="31" cy="185.84" r="19" fill="#e6f7f0"/>
<text x="31" y="192.79" text-anchor="middle" font-size="22.5" fill="#2c3a35">2</text>
<rect x="63.0" y="166.94" width="1230.9" height="37.8" rx="5.5" fill="#fefefe"/>
<text x="78.2" y="194.94" font-size="23.6" fill="#1e1e1e" stroke="#1e1e1e" stroke-width="0.25" textLength="68.4" lengthAdjust="spacingAndGlyphs">Soviet</text>
<text x="1310.2" y="195.04" font-size="24" fill="#fdfdfd" stroke="#fdfdfd" stroke-width="0.45">77</text>
<circle cx="31" cy="236.88" r="19" fill="#e6f7f0"/>
<text x="31" y="243.83" text-anchor="middle" font-size="22.5" fill="#2c3a35">3</text>
<rect x="63.0" y="217.98" width="1168.5" height="37.8" rx="5.5" fill="#fefefe"/>
<text x="78.2" y="245.98" font-size="23.6" fill="#1e1e1e" stroke="#1e1e1e" stroke-width="0.25" textLength="44.5" lengthAdjust="spacingAndGlyphs">USA</text>
<text x="1246.4" y="246.08" font-size="24" fill="#fdfdfd" stroke="#fdfdfd" stroke-width="0.45">73</text>
<circle cx="31" cy="287.92" r="19" fill="#e6f7f0"/>
<text x="31" y="294.87" text-anchor="middle" font-size="22.5" fill="#2c3a35">4</text>
<rect x="63.0" y="269.02" width="1150.9" height="37.8" rx="5.5" fill="#fefefe"/>
<text x="78.2" y="297.02" font-size="23.6" fill="#1e1e1e" stroke="#1e1e1e" stroke-width="0.25" textLength="94.4" lengthAdjust="spacingAndGlyphs">Hungary</text>
<text x="1228.8" y="297.12" font-size="24" fill="#fdfdfd" stroke="#fdfdfd" stroke-width="0.45">72</text>
<circle cx="31" cy="338.96" r="19" fill="#e6f7f0"/>
<text x="31" y="345.91" text-anchor="middle" font-size="22.5" fill="#2c3a35">5</text>
<rect x="63.0" y="320.06" width="1017.4" height="37.8" rx="5.5" fill="#fefefe"/>
<text x="78.2" y="348.06" font-size="23.6" fill="#1e1e1e" stroke="#1e1e1e" stroke-width="0.25" textLength="97.2" lengthAdjust="spacingAndGlyphs">Romania</text>
<text x="1094.5" y="348.16" font-size="24" fill="#fdfdfd" stroke="#fdfdfd" stroke-width="0.45">64</text>
<circle cx="31" cy="390.00" r="19" fill="#e6f7f0"/>
<text x="31" y="396.95" text-anchor="middle" font-size="22.5" fill="#2c3a35">6</text>
<rect x="63.0" y="371.10" width="841.7" height="37.8" rx="5.5" fill="#fefefe"/>
<text x="78.2" y="399.10" font-size="23.6" fill="#1e1e1e" stroke="#1e1e1e" stroke-width="0.25" textLength="70.6" lengthAdjust="spacingAndGlyphs">Russia</text>
<text x="919.2" y="399.20" font-size="24" fill="#fdfdfd" stroke="#fdfdfd" stroke-width="0.45">53</text>
<circle cx="31" cy="441.04" r="19" fill="#e6f7f0"/>
<text x="31" y="447.99" text-anchor="middle" font-size="22.5" fill="#2c3a35">7</text>
<rect x="63.0" y="422.14" width="735.1" height="37.8" rx="5.5" fill="#fefefe"/>
<text x="78.2" y="450.14" font-size="23.6" fill="#1e1e1e" stroke="#1e1e1e" stroke-width="0.25" textLength="90.7" lengthAdjust="spacingAndGlyphs">Bulgaria</text>
<text x="812.3" y="450.24" font-size="24" fill="#fdfdfd" stroke="#fdfdfd" stroke-width="0.45">46</text>
<circle cx="31" cy="492.08" r="19" fill="#e6f7f0"/>
<text x="31" y="499.03" text-anchor="middle" font-size="22.5" fill="#2c3a35">8</text>
<rect x="63.0" y="473.18" width="674.8" height="37.8" rx="5.5" fill="#fefefe"/>
<text x="78.2" y="501.18" font-size="23.6" fill="#1e1e1e" stroke="#1e1e1e" stroke-width="0.25" textLength="99.0" lengthAdjust="spacingAndGlyphs">Germany</text>
<text x="751.2" y="501.28" font-size="24" fill="#fdfdfd" stroke="#fdfdfd" stroke-width="0.45">42</text>
<circle cx="31" cy="543.12" r="19" fill="#e6f7f0"/>
<text x="31" y="550.07" text-anchor="middle" font-size="22.5" fill="#2c3a35">9</text>
<rect x="63.0" y="524.22" width="577.0" height="37.8" rx="5.5" fill="#fefefe"/>
<text x="78.2" y="552.22" font-size="23.6" fill="#1e1e1e" stroke="#1e1e1e" stroke-width="0.25" textLength="89.5" lengthAdjust="spacingAndGlyphs">Vietnam</text>
<text x="654.0" y="552.32" font-size="24" fill="#fdfdfd" stroke="#fdfdfd" stroke-width="0.45">36</text>
<circle cx="31" cy="594.16" r="19" fill="#e6f7f0"/>
<text x="31" y="601.11" text-anchor="middle" font-size="22.5" fill="#2c3a35">10</text>
<rect x="63.0" y="575.26" width="527.6" height="37.8" rx="5.5" fill="#fefefe"/>
<text x="78.2" y="603.26" font-size="23.6" fill="#1e1e1e" stroke="#1e1e1e" stroke-width="0.25" textLength="179.5" lengthAdjust="spacingAndGlyphs">United Kingdom</text>
<text x="604.3" y="603.36" font-size="24" fill="#fdfdfd" stroke="#fdfdfd" stroke-width="0.45">33</text>
<circle cx="31" cy="645.20" r="19" fill="#e6f7f0"/>
<text x="31" y="652.15" text-anchor="middle" font-size="22.5" fill="#2c3a35">11</text>
<rect x="63.0" y="626.30" width="435.0" height="37.8" rx="5.5" fill="#fefefe"/>
<text x="78.2" y="654.30" font-size="23.6" fill="#1e1e1e" stroke="#1e1e1e" stroke-width="0.25" textLength="134.8" lengthAdjust="spacingAndGlyphs">South Korea</text>
<text x="511.7" y="654.40" font-size="24" fill="#fdfdfd" stroke="#fdfdfd" stroke-width="0.45">27</text>
<circle cx="31" cy="696.24" r="19" fill="#e6f7f0"/>
<text x="31" y="703.19" text-anchor="middle" font-size="22.5" fill="#2c3a35">12</text>
<rect x="63.0" y="677.34" width="426.0" height="37.8" rx="5.5" fill="#fefefe"/>
<text x="78.2" y="705.34" font-size="23.6" fill="#1e1e1e" stroke="#1e1e1e" stroke-width="0.25" textLength="44.5" lengthAdjust="spacingAndGlyphs">Iran</text>
<text x="503.5" y="705.44" font-size="24" fill="#fdfdfd" stroke="#fdfdfd" stroke-width="0.45">27</text>
<circle cx="31" cy="747.28" r="19" fill="#e6f7f0"/>
<text x="31" y="754.23" text-anchor="middle" font-size="22.5" fill="#2c3a35">13</text>
<rect x="63.0" y="728.38" width="415.9" height="37.8" rx="5.5" fill="#fefefe"/>
<text x="78.2" y="756.38" font-size="23.6" fill="#1e1e1e" stroke="#1e1e1e" stroke-width="0.25" textLength="151.5" lengthAdjust="spacingAndGlyphs">East Germany</text>
<text x="492.9" y="756.48" font-size="24" fill="#fdfdfd" stroke="#fdfdfd" stroke-width="0.45">26</text>
<circle cx="31" cy="798.32" r="19" fill="#e6f7f0"/>
<text x="31" y="805.27" text-anchor="middle" font-size="22.5" fill="#2c3a35">14</text>
<rect x="63.0" y="779.42" width="344.6" height="37.8" rx="5.5" fill="#fefefe"/>
<text x="78.2" y="807.42" font-size="23.6" fill="#1e1e1e" stroke="#1e1e1e" stroke-width="0.25" textLength="73.9" lengthAdjust="spacingAndGlyphs">France</text>
<text x="421.9" y="807.52" font-size="24" fill="#fdfdfd" stroke="#fdfdfd" stroke-width="0.45">22</text>
<circle cx="31" cy="849.36" r="19" fill="#e6f7f0"/>
<text x="31" y="856.31" text-anchor="middle" font-size="22.5" fill="#2c3a35">15</text>
<rect x="63.0" y="830.46" width="289.8" height="37.8" rx="5.5" fill="#fefefe"/>
<text x="78.2" y="858.46" font-size="23.6" fill="#1e1e1e" stroke="#1e1e1e" stroke-width="0.25" textLength="67.2" lengthAdjust="spacingAndGlyphs">Japan</text>
<text x="367.7" y="858.56" font-size="24" fill="#fdfdfd" stroke="#fdfdfd" stroke-width="0.45">18</text>
<g transform="translate(1454.80 122.65) scale(0.9278 0.9346)"><clipPath id="fc0"><rect width="36" height="26" rx="3.45" ry="3.42"/></clipPath><g clip-path="url(#fc0)"><rect width="36" height="26" fill="#e32b0d"/><polygon points="8.00,4.90 8.88,7.59 11.71,7.59 9.42,9.26 10.29,11.96 8.00,10.29 5.71,11.96 6.58,9.26 4.29,7.59 7.12,7.59" fill="#ffc63a"/><circle cx="14.2" cy="3.8" r="0.95" fill="#f08a2a"/><circle cx="16.8" cy="6.6" r="0.95" fill="#f08a2a"/><circle cx="16.8" cy="10.6" r="0.95" fill="#f08a2a"/><circle cx="14.2" cy="13.4" r="0.95" fill="#f08a2a"/></g></g>
<g transform="translate(1249.50 172.24) scale(1.0444 1.0462)"><clipPath id="fc1"><rect width="36" height="26" rx="3.06" ry="3.06"/></clipPath><g clip-path="url(#fc1)"><rect width="36" height="26" fill="#df2c41"/><path d="M6.2 9.4A3.2 3.2 0 1 0 8.2 4.2A4.2 4.2 0 0 1 6.2 9.4Z" fill="#f3b53e"/><path d="M5 5.2L9.6 9.8" stroke="#f3b53e" stroke-width="1.2"/><polygon points="7.60,2.10 7.85,2.86 8.65,2.86 8.00,3.33 8.25,4.09 7.60,3.62 6.95,4.09 7.20,3.33 6.55,2.86 7.35,2.86" fill="#f3b53e"/></g></g>
<g transform="translate(1195.70 224.68) scale(0.9722 0.9385)"><clipPath id="fc2"><rect width="36" height="26" rx="3.29" ry="3.41"/></clipPath><g clip-path="url(#fc2)"><rect width="36" height="26" fill="#eeeeee"/><rect y="0.00" width="36" height="2" fill="#c04a5c"/><rect y="4.00" width="36" height="2" fill="#c04a5c"/><rect y="8.00" width="36" height="2" fill="#c04a5c"/><rect y="12.00" width="36" height="2" fill="#c04a5c"/><rect y="16.00" width="36" height="2" fill="#c04a5c"/><rect y="20.00" width="36" height="2" fill="#c04a5c"/><rect y="24.00" width="36" height="2" fill="#c04a5c"/><rect width="16" height="14" fill="#4a4a86"/><circle cx="1.60" cy="1.60" r="0.55" fill="#c9c9de"/><circle cx="4.15" cy="1.60" r="0.55" fill="#c9c9de"/><circle cx="6.70" cy="1.60" r="0.55" fill="#c9c9de"/><circle cx="9.25" cy="1.60" r="0.55" fill="#c9c9de"/><circle cx="11.80" cy="1.60" r="0.55" fill="#c9c9de"/><circle cx="14.35" cy="1.60" r="0.55" fill="#c9c9de"/><circle cx="1.60" cy="4.30" r="0.55" fill="#c9c9de"/><circle cx="4.15" cy="4.30" r="0.55" fill="#c9c9de"/><circle cx="6.70" cy="4.30" r="0.55" fill="#c9c9de"/><circle cx="9.25" cy="4.30" r="0.55" fill="#c9c9de"/><circle cx="11.80" cy="4.30" r="0.55" fill="#c9c9de"/><circle cx="14.35" cy="4.30" r="0.55" fill="#c9c9de"/><circle cx="1.60" cy="7.00" r="0.55" fill="#c9c9de"/><circle cx="4.15" cy="7.00" r="0.55" fill="#c9c9de"/><circle cx="6.70" cy="7.00" r="0.55" fill="#c9c9de"/><circle cx="9.25" cy="7.00" r="0.55" fill="#c9c9de"/><circle cx="11.80" cy="7.00" r="0.55" fill="#c9c9de"/><circle cx="14.35" cy="7.00" r="0.55" fill="#c9c9de"/><circle cx="1.60" cy="9.70" r="0.55" fill="#c9c9de"/><circle cx="4.15" cy="9.70" r="0.55" fill="#c9c9de"/><circle cx="6.70" cy="9.70" r="0.55" fill="#c9c9de"/><circle cx="9.25" cy="9.70" r="0.55" fill="#c9c9de"/><circle cx="11.80" cy="9.70" r="0.55" fill="#c9c9de"/><circle cx="14.35" cy="9.70" r="0.55" fill="#c9c9de"/><circle cx="1.60" cy="12.40" r="0.55" fill="#c9c9de"/><circle cx="4.15" cy="12.40" r="0.55" fill="#c9c9de"/><circle cx="6.70" cy="12.40" r="0.55" fill="#c9c9de"/><circle cx="9.25" cy="12.40" r="0.55" fill="#c9c9de"/><circle cx="11.80" cy="12.40" r="0.55" fill="#c9c9de"/><circle cx="14.35" cy="12.40" r="0.55" fill="#c9c9de"/></g></g>
<g transform="translate(1177.70 275.62) scale(0.9556 0.9462)"><clipPath id="fc3"><rect width="36" height="26" rx="3.35" ry="3.38"/></clipPath><g clip-path="url(#fc3)"><rect width="36" height="26" fill="#ececec"/><rect width="36" height="8.6" fill="#cf2739"/><rect y="17.4" width="36" height="8.6" fill="#4a7853"/></g></g>
<g transform="translate(1044.20 326.66) scale(0.9556 0.9462)"><clipPath id="fc4"><rect width="36" height="26" rx="3.35" ry="3.38"/></clipPath><g clip-path="url(#fc4)"><rect width="36" height="26" fill="#f8d012"/><rect width="12" height="26" fill="#17349b"/><rect x="24" width="12" height="26" fill="#dc1a2b"/></g></g>
<g transform="translate(868.50 377.70) scale(0.9556 0.9462)"><clipPath id="fc5"><rect width="36" height="26" rx="3.35" ry="3.38"/></clipPath><g clip-path="url(#fc5)"><rect width="36" height="26" fill="#ececec"/><rect y="8.7" width="36" height="8.8" fill="#27439a"/><rect y="17.4" width="36" height="8.6" fill="#db2028"/></g></g>
<g transform="translate(761.90 428.74) scale(0.9556 0.9462)"><clipPath id="fc6"><rect width="36" height="26" rx="3.35" ry="3.38"/></clipPath><g clip-path="url(#fc6)"><rect width="36" height="26" fill="#ececec"/><rect y="8.7" width="36" height="8.8" fill="#1b9a72"/><rect y="17.4" width="36" height="8.6" fill="#dd2b12"/></g></g>
<g transform="translate(701.60 479.78) scale(0.9556 0.9462)"><clipPath id="fc7"><rect width="36" height="26" rx="3.35" ry="3.38"/></clipPath><g clip-path="url(#fc7)"><rect width="36" height="26" fill="#f9cc12"/><rect width="36" height="8.7" fill="#151515"/><rect y="8.7" width="36" height="8.7" fill="#e51a1e"/></g></g>
<g transform="translate(603.80 530.82) scale(0.9556 0.9462)"><clipPath id="fc8"><rect width="36" height="26" rx="3.35" ry="3.38"/></clipPath><g clip-path="url(#fc8)"><rect width="36" height="26" fill="#e0211d"/><polygon points="18.00,6.00 19.71,11.25 25.23,11.25 20.76,14.50 22.47,19.75 18.00,16.50 13.53,19.75 15.24,14.50 10.77,11.25 16.29,11.25" fill="#ffe62a"/></g></g>
<g transform="translate(554.40 581.86) scale(0.9556 0.9462)"><clipPath id="fc9"><rect width="36" height="26" rx="3.35" ry="3.38"/></clipPath><g clip-path="url(#fc9)"><rect width="36" height="26" fill="#2a2e63"/><path d="M0 0L36 26M36 0L0 26" stroke="#eeeeee" stroke-width="4.6"/><path d="M0 0L36 26M36 0L0 26" stroke="#d22a3c" stroke-width="1.5"/><path d="M18 0V26M0 13H36" stroke="#eeeeee" stroke-width="10.4"/><path d="M18 0V26M0 13H36" stroke="#d22a3c" stroke-width="6.8"/></g></g>
<g transform="translate(461.80 632.90) scale(0.9556 0.9462)"><clipPath id="fc10"><rect width="36" height="26" rx="3.35" ry="3.38"/></clipPath><g clip-path="url(#fc10)"><rect width="36" height="26" fill="#f5f5f5"/><g transform="rotate(33.7 18 13)"><path d="M10.6 13a7.4 7.4 0 0 1 14.8 0z" fill="#d4283c"/><path d="M10.6 13a7.4 7.4 0 0 0 14.8 0z" fill="#1f3f78"/><circle cx="14.3" cy="13" r="3.7" fill="#d4283c"/><circle cx="21.7" cy="13" r="3.7" fill="#1f3f78"/></g><g transform="translate(6.6 5.4) rotate(-56)"><rect x="-3.2" y="-2.9" width="6.4" height="1.6" fill="#8c8c8c"/><rect x="-3.2" y="-0.8" width="6.4" height="1.6" fill="#8c8c8c"/><rect x="-3.2" y="1.3" width="6.4" height="1.6" fill="#8c8c8c"/></g><g transform="translate(29.4 5.4) rotate(56)"><rect x="-3.2" y="-2.9" width="6.4" height="1.6" fill="#8c8c8c"/><rect x="-3.2" y="-0.8" width="6.4" height="1.6" fill="#8c8c8c"/><rect x="-3.2" y="1.3" width="6.4" height="1.6" fill="#8c8c8c"/></g><g transform="translate(6.6 20.6) rotate(56)"><rect x="-3.2" y="-2.9" width="6.4" height="1.6" fill="#8c8c8c"/><rect x="-3.2" y="-0.8" width="6.4" height="1.6" fill="#8c8c8c"/><rect x="-3.2" y="1.3" width="6.4" height="1.6" fill="#8c8c8c"/></g><g transform="translate(29.4 20.6) rotate(-56)"><rect x="-3.2" y="-2.9" width="6.4" height="1.6" fill="#8c8c8c"/><rect x="-3.2" y="-0.8" width="6.4" height="1.6" fill="#8c8c8c"/><rect x="-3.2" y="1.3" width="6.4" height="1.6" fill="#8c8c8c"/></g></g></g>
<g transform="translate(452.80 683.94) scale(0.9556 0.9462)"><clipPath id="fc11"><rect width="36" height="26" rx="4.40" ry="4.44"/></clipPath><g clip-path="url(#fc11)"><rect width="36" height="26" fill="#efefef"/><rect width="36" height="8" fill="#2aa24b"/><rect y="18" width="36" height="8" fill="#e01c25"/><circle cx="18" cy="13" r="2.3" fill="none" stroke="#df6070" stroke-width="1.1"/><path d="M18 10.4V15.8" stroke="#df6070" stroke-width="1"/></g></g>
<g transform="translate(445.40 735.88) scale(0.8472 0.8769)"><clipPath id="fc12"><rect width="36" height="26" rx="0.71" ry="0.68"/></clipPath><g clip-path="url(#fc12)"><rect width="36" height="26" fill="#f9cc12"/><rect width="36" height="8.7" fill="#111"/><rect y="8.7" width="36" height="8.7" fill="#e2141a"/><circle cx="18" cy="13" r="7.0" fill="#d9601c"/><circle cx="18" cy="13" r="4.6" fill="#e2141a"/><path d="M15.6 16L20.4 10M15.8 10.4L20 15.6" stroke="#f0a01a" stroke-width="1.5"/></g></g>
<g transform="translate(371.40 786.02) scale(0.9556 0.9462)"><clipPath id="fc13"><rect width="36" height="26" rx="3.35" ry="3.38"/></clipPath><g clip-path="url(#fc13)"><rect width="36" height="26" fill="#ececec"/><rect width="12" height="26" fill="#1530a8"/><rect x="24" width="12" height="26" fill="#f02a3e"/></g></g>
<g transform="translate(316.60 837.06) scale(0.9556 0.9462)"><clipPath id="fc14"><rect width="36" height="26" rx="3.35" ry="3.38"/></clipPath><g clip-path="url(#fc14)"><rect width="36" height="26" fill="#ebebee"/><circle cx="18" cy="13" r="7.4" fill="#ea1c2e"/></g></g>
<g stroke-linejoin="round" stroke-linecap="round">
<path d="M1368.5 371.7C1372.8 368.7 1386.9 368.5 1390.8 368.3C1394.6 368.1 1392.2 367.2 1391.7 370.3C1391.2 373.4 1392.1 383.8 1387.8 386.9C1383.5 390.0 1369.6 388.7 1365.8 388.7C1361.9 388.6 1364.3 389.5 1364.8 386.7C1365.3 383.9 1364.2 374.8 1368.5 371.7Z" fill="#ffffff" stroke="#ffffff" stroke-width="7.0"/><path d="M1368.5 371.7C1372.8 368.7 1386.9 368.5 1390.8 368.3C1394.6 368.1 1392.2 367.2 1391.7 370.3C1391.2 373.4 1392.1 383.8 1387.8 386.9C1383.5 390.0 1369.6 388.7 1365.8 388.7C1361.9 388.6 1364.3 389.5 1364.8 386.7C1365.3 383.9 1364.2 374.8 1368.5 371.7Z" fill="#1593df"/>
<path d="M1174.5 364.2C1174.3 362.8 1173.1 361.1 1176.0 359.3C1178.8 357.5 1186.1 355.2 1191.4 353.6C1196.8 352.0 1204.9 350.0 1208.1 349.7C1211.3 349.4 1210.7 350.4 1210.8 351.8C1211.0 353.3 1209.8 356.4 1208.8 358.5C1207.8 360.6 1205.9 359.2 1205.0 364.4C1204.0 369.6 1202.1 384.8 1203.0 389.8C1203.9 394.9 1209.0 393.4 1210.5 394.9C1212.0 396.5 1212.3 397.7 1212.0 399.2C1211.7 400.6 1212.2 402.7 1208.8 403.6C1205.4 404.4 1197.1 404.1 1191.4 404.1C1185.8 404.2 1177.8 404.9 1174.8 404.0C1171.8 403.2 1173.1 400.6 1173.3 399.2C1173.5 397.7 1174.3 396.3 1176.0 395.2C1177.6 394.2 1181.6 397.3 1183.3 392.8C1185.0 388.3 1187.1 372.5 1186.1 368.3C1185.0 364.1 1179.2 368.5 1177.2 367.8C1175.3 367.1 1174.7 365.6 1174.5 364.2Z" fill="#ffffff" stroke="#ffffff" stroke-width="7.0"/><path d="M1174.5 364.2C1174.3 362.8 1173.1 361.1 1176.0 359.3C1178.8 357.5 1186.1 355.2 1191.4 353.6C1196.8 352.0 1204.9 350.0 1208.1 349.7C1211.3 349.4 1210.7 350.4 1210.8 351.8C1211.0 353.3 1209.8 356.4 1208.8 358.5C1207.8 360.6 1205.9 359.2 1205.0 364.4C1204.0 369.6 1202.1 384.8 1203.0 389.8C1203.9 394.9 1209.0 393.4 1210.5 394.9C1212.0 396.5 1212.3 397.7 1212.0 399.2C1211.7 400.6 1212.2 402.7 1208.8 403.6C1205.4 404.4 1197.1 404.1 1191.4 404.1C1185.8 404.2 1177.8 404.9 1174.8 404.0C1171.8 403.2 1173.1 400.6 1173.3 399.2C1173.5 397.7 1174.3 396.3 1176.0 395.2C1177.6 394.2 1181.6 397.3 1183.3 392.8C1185.0 388.3 1187.1 372.5 1186.1 368.3C1185.0 364.1 1179.2 368.5 1177.2 367.8C1175.3 367.1 1174.7 365.6 1174.5 364.2Z" fill="#1593df"/>
<path d="M1246.3 348.7C1250.9 348.7 1255.8 350.7 1259.0 353.6C1262.3 356.5 1264.5 361.8 1265.7 366.3C1266.9 370.9 1266.8 376.5 1266.1 381.0C1265.4 385.6 1263.5 389.5 1261.5 393.8C1259.4 398.0 1256.4 402.9 1253.6 406.5C1250.9 410.1 1247.1 414.2 1244.8 415.5C1242.5 416.8 1241.2 415.3 1239.9 414.5C1238.6 413.8 1236.9 412.7 1237.0 410.9C1237.1 409.1 1239.2 406.1 1240.4 403.6C1241.7 401.1 1245.7 396.9 1244.5 395.9C1243.4 394.9 1236.9 398.6 1233.6 397.7C1230.2 396.8 1226.5 393.8 1224.3 390.3C1222.1 386.9 1220.6 381.4 1220.3 377.1C1220.1 372.8 1220.9 368.3 1222.8 364.4C1224.7 360.5 1227.7 356.2 1231.6 353.6C1235.5 351.0 1241.7 348.7 1246.3 348.7Z" fill="#ffffff" stroke="#ffffff" stroke-width="7.0"/><path d="M1246.3 348.7C1250.9 348.7 1255.8 350.7 1259.0 353.6C1262.3 356.5 1264.5 361.8 1265.7 366.3C1266.9 370.9 1266.8 376.5 1266.1 381.0C1265.4 385.6 1263.5 389.5 1261.5 393.8C1259.4 398.0 1256.4 402.9 1253.6 406.5C1250.9 410.1 1247.1 414.2 1244.8 415.5C1242.5 416.8 1241.2 415.3 1239.9 414.5C1238.6 413.8 1236.9 412.7 1237.0 410.9C1237.1 409.1 1239.2 406.1 1240.4 403.6C1241.7 401.1 1245.7 396.9 1244.5 395.9C1243.4 394.9 1236.9 398.6 1233.6 397.7C1230.2 396.8 1226.5 393.8 1224.3 390.3C1222.1 386.9 1220.6 381.4 1220.3 377.1C1220.1 372.8 1220.9 368.3 1222.8 364.4C1224.7 360.5 1227.7 356.2 1231.6 353.6C1235.5 351.0 1241.7 348.7 1246.3 348.7Z" fill="#1593df"/><ellipse cx="1243.1" cy="372.2" rx="3.6" ry="11.5" fill="#ffffff" transform="rotate(8 1243.1 372.2)"/><ellipse cx="1243.1" cy="372.2" rx="1.0" ry="8.3" fill="#1c2a4a" transform="rotate(8 1243.1 372.2)"/>
<path d="M1281.1 351.8C1284.5 348.3 1291.9 351.4 1297.2 350.7C1302.5 350.0 1310.1 347.9 1312.9 347.7C1315.7 347.6 1314.1 348.1 1314.1 349.7C1314.0 351.3 1313.0 355.1 1312.4 357.5C1311.8 359.9 1312.6 362.7 1310.4 364.1C1308.2 365.5 1302.8 365.6 1299.2 366.1C1295.5 366.7 1290.6 366.3 1288.6 367.5C1286.6 368.7 1285.8 372.6 1287.2 373.4C1288.7 374.2 1294.1 371.6 1297.2 372.2C1300.4 372.8 1303.7 374.7 1306.0 377.1C1308.3 379.6 1310.2 383.3 1310.9 386.9C1311.6 390.5 1311.6 395.0 1310.1 398.7C1308.7 402.3 1305.6 406.3 1302.1 408.7C1298.7 411.0 1293.6 412.2 1289.4 412.6C1285.1 412.9 1279.8 411.9 1276.7 410.6C1273.5 409.3 1271.6 406.5 1270.8 404.7C1270.0 402.9 1270.5 400.9 1271.9 399.8C1273.4 398.8 1277.3 398.5 1279.6 398.7C1281.9 398.8 1284.2 400.7 1285.7 400.8C1287.2 400.9 1288.5 400.3 1288.6 399.2C1288.7 398.0 1287.9 395.3 1286.4 394.0C1284.9 392.7 1281.7 392.2 1279.6 391.3C1277.5 390.4 1274.2 391.6 1273.7 388.4C1273.2 385.2 1275.4 378.3 1276.7 372.2C1277.9 366.1 1277.6 355.4 1281.1 351.8Z" fill="#ffffff" stroke="#ffffff" stroke-width="7.0"/><path d="M1281.1 351.8C1284.5 348.3 1291.9 351.4 1297.2 350.7C1302.5 350.0 1310.1 347.9 1312.9 347.7C1315.7 347.6 1314.1 348.1 1314.1 349.7C1314.0 351.3 1313.0 355.1 1312.4 357.5C1311.8 359.9 1312.6 362.7 1310.4 364.1C1308.2 365.5 1302.8 365.6 1299.2 366.1C1295.5 366.7 1290.6 366.3 1288.6 367.5C1286.6 368.7 1285.8 372.6 1287.2 373.4C1288.7 374.2 1294.1 371.6 1297.2 372.2C1300.4 372.8 1303.7 374.7 1306.0 377.1C1308.3 379.6 1310.2 383.3 1310.9 386.9C1311.6 390.5 1311.6 395.0 1310.1 398.7C1308.7 402.3 1305.6 406.3 1302.1 408.7C1298.7 411.0 1293.6 412.2 1289.4 412.6C1285.1 412.9 1279.8 411.9 1276.7 410.6C1273.5 409.3 1271.6 406.5 1270.8 404.7C1270.0 402.9 1270.5 400.9 1271.9 399.8C1273.4 398.8 1277.3 398.5 1279.6 398.7C1281.9 398.8 1284.2 400.7 1285.7 400.8C1287.2 400.9 1288.5 400.3 1288.6 399.2C1288.7 398.0 1287.9 395.3 1286.4 394.0C1284.9 392.7 1281.7 392.2 1279.6 391.3C1277.5 390.4 1274.2 391.6 1273.7 388.4C1273.2 385.2 1275.4 378.3 1276.7 372.2C1277.9 366.1 1277.6 355.4 1281.1 351.8Z" fill="#1593df"/>
<path d="M1344.9 348.7C1349.5 348.7 1354.4 350.7 1357.6 353.6C1360.9 356.5 1363.1 361.8 1364.3 366.3C1365.5 370.9 1365.4 376.5 1364.7 381.0C1364.0 385.6 1362.1 389.5 1360.1 393.8C1358.0 398.0 1355.0 402.9 1352.2 406.5C1349.5 410.1 1345.7 414.2 1343.4 415.5C1341.1 416.8 1339.8 415.3 1338.5 414.5C1337.2 413.8 1335.5 412.7 1335.6 410.9C1335.7 409.1 1337.8 406.1 1339.0 403.6C1340.3 401.1 1344.3 396.9 1343.1 395.9C1342.0 394.9 1335.5 398.6 1332.2 397.7C1328.8 396.8 1325.1 393.8 1322.9 390.3C1320.7 386.9 1319.2 381.4 1318.9 377.1C1318.7 372.8 1319.5 368.3 1321.4 364.4C1323.3 360.5 1326.3 356.2 1330.2 353.6C1334.1 351.0 1340.3 348.7 1344.9 348.7Z" fill="#ffffff" stroke="#ffffff" stroke-width="7.0"/><path d="M1344.9 348.7C1349.5 348.7 1354.4 350.7 1357.6 353.6C1360.9 356.5 1363.1 361.8 1364.3 366.3C1365.5 370.9 1365.4 376.5 1364.7 381.0C1364.0 385.6 1362.1 389.5 1360.1 393.8C1358.0 398.0 1355.0 402.9 1352.2 406.5C1349.5 410.1 1345.7 414.2 1343.4 415.5C1341.1 416.8 1339.8 415.3 1338.5 414.5C1337.2 413.8 1335.5 412.7 1335.6 410.9C1335.7 409.1 1337.8 406.1 1339.0 403.6C1340.3 401.1 1344.3 396.9 1343.1 395.9C1342.0 394.9 1335.5 398.6 1332.2 397.7C1328.8 396.8 1325.1 393.8 1322.9 390.3C1320.7 386.9 1319.2 381.4 1318.9 377.1C1318.7 372.8 1319.5 368.3 1321.4 364.4C1323.3 360.5 1326.3 356.2 1330.2 353.6C1334.1 351.0 1340.3 348.7 1344.9 348.7Z" fill="#1593df"/><ellipse cx="1341.7" cy="372.2" rx="3.6" ry="11.5" fill="#ffffff" transform="rotate(8 1341.7 372.2)"/><ellipse cx="1341.7" cy="372.2" rx="1.0" ry="8.3" fill="#1c2a4a" transform="rotate(8 1341.7 372.2)"/>
<path d="M1394.4 364.6C1394.9 362.2 1396.3 357.1 1399.6 354.6C1402.9 352.0 1409.7 350.0 1414.3 349.3C1418.9 348.6 1423.6 349.1 1427.0 350.7C1430.4 352.2 1433.6 355.7 1434.8 358.5C1436.1 361.3 1435.1 364.7 1434.5 367.3C1433.8 370.0 1432.6 372.1 1430.9 374.4C1429.3 376.7 1424.2 379.4 1424.6 381.0C1425.0 382.7 1431.6 382.7 1433.4 384.5C1435.1 386.3 1435.3 387.9 1435.0 391.8C1434.8 395.7 1433.6 404.9 1432.1 407.7C1430.6 410.5 1427.9 409.1 1426.0 408.7C1424.2 408.2 1424.6 405.5 1421.1 404.7C1417.7 404.0 1410.4 404.5 1405.5 404.3C1400.5 404.2 1393.9 404.5 1391.3 403.8C1388.7 403.0 1389.7 400.9 1389.8 399.6C1389.9 398.4 1389.6 399.3 1391.8 396.2C1393.9 393.1 1399.0 386.0 1402.5 381.0C1406.0 376.0 1411.7 368.7 1412.8 366.1C1414.0 363.6 1411.0 365.2 1409.4 365.6C1407.8 365.9 1405.1 367.8 1403.0 368.3C1400.9 368.8 1398.3 369.4 1396.8 368.8C1395.4 368.2 1393.9 366.9 1394.4 364.6Z" fill="#ffffff" stroke="#ffffff" stroke-width="7.0"/><path d="M1394.4 364.6C1394.9 362.2 1396.3 357.1 1399.6 354.6C1402.9 352.0 1409.7 350.0 1414.3 349.3C1418.9 348.6 1423.6 349.1 1427.0 350.7C1430.4 352.2 1433.6 355.7 1434.8 358.5C1436.1 361.3 1435.1 364.7 1434.5 367.3C1433.8 370.0 1432.6 372.1 1430.9 374.4C1429.3 376.7 1424.2 379.4 1424.6 381.0C1425.0 382.7 1431.6 382.7 1433.4 384.5C1435.1 386.3 1435.3 387.9 1435.0 391.8C1434.8 395.7 1433.6 404.9 1432.1 407.7C1430.6 410.5 1427.9 409.1 1426.0 408.7C1424.2 408.2 1424.6 405.5 1421.1 404.7C1417.7 404.0 1410.4 404.5 1405.5 404.3C1400.5 404.2 1393.9 404.5 1391.3 403.8C1388.7 403.0 1389.7 400.9 1389.8 399.6C1389.9 398.4 1389.6 399.3 1391.8 396.2C1393.9 393.1 1399.0 386.0 1402.5 381.0C1406.0 376.0 1411.7 368.7 1412.8 366.1C1414.0 363.6 1411.0 365.2 1409.4 365.6C1407.8 365.9 1405.1 367.8 1403.0 368.3C1400.9 368.8 1398.3 369.4 1396.8 368.8C1395.4 368.2 1393.9 366.9 1394.4 364.6Z" fill="#1593df"/>
<path d="M1468.1 348.7C1472.2 348.9 1475.9 350.7 1478.9 353.6C1481.9 356.5 1485.0 361.9 1486.3 366.3C1487.6 370.7 1487.5 375.5 1486.8 380.1C1486.0 384.6 1484.3 389.8 1481.9 393.8C1479.4 397.7 1475.5 401.6 1472.1 403.6C1468.6 405.6 1464.9 406.0 1461.3 405.7C1457.7 405.4 1453.5 404.1 1450.5 401.6C1447.6 399.1 1445.1 394.9 1443.7 390.8C1442.3 386.7 1441.9 381.7 1442.2 377.1C1442.5 372.5 1443.6 367.5 1445.6 363.4C1447.7 359.3 1450.7 355.1 1454.4 352.6C1458.2 350.2 1464.1 348.5 1468.1 348.7Z" fill="#ffffff" stroke="#ffffff" stroke-width="7.0"/><path d="M1468.1 348.7C1472.2 348.9 1475.9 350.7 1478.9 353.6C1481.9 356.5 1485.0 361.9 1486.3 366.3C1487.6 370.7 1487.5 375.5 1486.8 380.1C1486.0 384.6 1484.3 389.8 1481.9 393.8C1479.4 397.7 1475.5 401.6 1472.1 403.6C1468.6 405.6 1464.9 406.0 1461.3 405.7C1457.7 405.4 1453.5 404.1 1450.5 401.6C1447.6 399.1 1445.1 394.9 1443.7 390.8C1442.3 386.7 1441.9 381.7 1442.2 377.1C1442.5 372.5 1443.6 367.5 1445.6 363.4C1447.7 359.3 1450.7 355.1 1454.4 352.6C1458.2 350.2 1464.1 348.5 1468.1 348.7Z" fill="#1593df"/><ellipse cx="1463.8" cy="377.1" rx="3.4" ry="18" fill="#ffffff" transform="rotate(5.5 1463.8 377.1)"/><ellipse cx="1463.8" cy="377.1" rx="0.7999999999999998" ry="14.8" fill="#1c2a4a" transform="rotate(5.5 1463.8 377.1)"/>
<path d="M1492.9 364.6C1493.4 362.2 1494.8 357.1 1498.1 354.6C1501.4 352.0 1508.2 350.0 1512.8 349.3C1517.4 348.6 1522.1 349.1 1525.5 350.7C1528.9 352.2 1532.1 355.7 1533.3 358.5C1534.6 361.3 1533.6 364.7 1533.0 367.3C1532.3 370.0 1531.1 372.1 1529.4 374.4C1527.8 376.7 1522.7 379.4 1523.1 381.0C1523.5 382.7 1530.1 382.7 1531.9 384.5C1533.6 386.3 1533.8 387.9 1533.5 391.8C1533.3 395.7 1532.1 404.9 1530.6 407.7C1529.1 410.5 1526.4 409.1 1524.5 408.7C1522.7 408.2 1523.1 405.5 1519.6 404.7C1516.2 404.0 1508.9 404.5 1504.0 404.3C1499.0 404.2 1492.4 404.5 1489.8 403.8C1487.2 403.0 1488.2 400.9 1488.3 399.6C1488.4 398.4 1488.1 399.3 1490.3 396.2C1492.4 393.1 1497.5 386.0 1501.0 381.0C1504.5 376.0 1510.2 368.7 1511.3 366.1C1512.5 363.6 1509.5 365.2 1507.9 365.6C1506.3 365.9 1503.6 367.8 1501.5 368.3C1499.4 368.8 1496.8 369.4 1495.3 368.8C1493.9 368.2 1492.4 366.9 1492.9 364.6Z" fill="#ffffff" stroke="#ffffff" stroke-width="7.0"/><path d="M1492.9 364.6C1493.4 362.2 1494.8 357.1 1498.1 354.6C1501.4 352.0 1508.2 350.0 1512.8 349.3C1517.4 348.6 1522.1 349.1 1525.5 350.7C1528.9 352.2 1532.1 355.7 1533.3 358.5C1534.6 361.3 1533.6 364.7 1533.0 367.3C1532.3 370.0 1531.1 372.1 1529.4 374.4C1527.8 376.7 1522.7 379.4 1523.1 381.0C1523.5 382.7 1530.1 382.7 1531.9 384.5C1533.6 386.3 1533.8 387.9 1533.5 391.8C1533.3 395.7 1532.1 404.9 1530.6 407.7C1529.1 410.5 1526.4 409.1 1524.5 408.7C1522.7 408.2 1523.1 405.5 1519.6 404.7C1516.2 404.0 1508.9 404.5 1504.0 404.3C1499.0 404.2 1492.4 404.5 1489.8 403.8C1487.2 403.0 1488.2 400.9 1488.3 399.6C1488.4 398.4 1488.1 399.3 1490.3 396.2C1492.4 393.1 1497.5 386.0 1501.0 381.0C1504.5 376.0 1510.2 368.7 1511.3 366.1C1512.5 363.6 1509.5 365.2 1507.9 365.6C1506.3 365.9 1503.6 367.8 1501.5 368.3C1499.4 368.8 1496.8 369.4 1495.3 368.8C1493.9 368.2 1492.4 366.9 1492.9 364.6Z" fill="#1593df"/>
<path d="M1542.7 363.6C1542.4 361.4 1544.8 357.9 1546.6 356.1C1548.4 354.2 1549.9 353.6 1553.5 352.4C1557.0 351.3 1563.9 349.0 1568.1 349.2C1572.4 349.4 1576.6 351.2 1578.9 353.6C1581.2 356.0 1582.2 360.3 1582.1 363.4C1581.9 366.5 1579.4 370.1 1578.1 372.2C1576.8 374.3 1573.6 374.5 1574.2 376.1C1574.8 377.8 1580.2 379.3 1581.9 382.2C1583.5 385.1 1584.8 389.7 1584.0 393.8C1583.2 397.8 1580.8 403.2 1577.0 406.5C1573.2 409.8 1566.8 412.7 1561.3 413.6C1555.7 414.4 1547.4 412.9 1543.7 411.6C1539.9 410.3 1539.4 407.7 1538.8 405.7C1538.1 403.8 1538.5 400.5 1539.9 399.8C1541.4 399.2 1545.0 401.1 1547.6 401.6C1550.2 402.1 1553.1 403.2 1555.4 402.6C1557.7 401.9 1560.3 399.8 1561.5 397.7C1562.7 395.6 1563.0 391.8 1562.5 390.0C1561.9 388.3 1560.2 387.9 1558.4 387.1C1556.6 386.3 1553.0 386.2 1551.7 385.1C1550.4 384.1 1550.7 382.3 1550.7 381.0C1550.7 379.7 1550.6 378.4 1551.7 377.3C1552.8 376.2 1555.7 375.8 1557.4 374.4C1559.0 372.9 1561.3 370.0 1561.5 368.5C1561.7 367.0 1559.9 365.8 1558.4 365.6C1556.9 365.3 1554.1 366.2 1552.5 366.8C1550.8 367.5 1550.2 370.0 1548.6 369.5C1546.9 368.9 1543.0 365.8 1542.7 363.6Z" fill="#ffffff" stroke="#ffffff" stroke-width="7.0"/><path d="M1542.7 363.6C1542.4 361.4 1544.8 357.9 1546.6 356.1C1548.4 354.2 1549.9 353.6 1553.5 352.4C1557.0 351.3 1563.9 349.0 1568.1 349.2C1572.4 349.4 1576.6 351.2 1578.9 353.6C1581.2 356.0 1582.2 360.3 1582.1 363.4C1581.9 366.5 1579.4 370.1 1578.1 372.2C1576.8 374.3 1573.6 374.5 1574.2 376.1C1574.8 377.8 1580.2 379.3 1581.9 382.2C1583.5 385.1 1584.8 389.7 1584.0 393.8C1583.2 397.8 1580.8 403.2 1577.0 406.5C1573.2 409.8 1566.8 412.7 1561.3 413.6C1555.7 414.4 1547.4 412.9 1543.7 411.6C1539.9 410.3 1539.4 407.7 1538.8 405.7C1538.1 403.8 1538.5 400.5 1539.9 399.8C1541.4 399.2 1545.0 401.1 1547.6 401.6C1550.2 402.1 1553.1 403.2 1555.4 402.6C1557.7 401.9 1560.3 399.8 1561.5 397.7C1562.7 395.6 1563.0 391.8 1562.5 390.0C1561.9 388.3 1560.2 387.9 1558.4 387.1C1556.6 386.3 1553.0 386.2 1551.7 385.1C1550.4 384.1 1550.7 382.3 1550.7 381.0C1550.7 379.7 1550.6 378.4 1551.7 377.3C1552.8 376.2 1555.7 375.8 1557.4 374.4C1559.0 372.9 1561.3 370.0 1561.5 368.5C1561.7 367.0 1559.9 365.8 1558.4 365.6C1556.9 365.3 1554.1 366.2 1552.5 366.8C1550.8 367.5 1550.2 370.0 1548.6 369.5C1546.9 368.9 1543.0 365.8 1542.7 363.6Z" fill="#1593df"/>
</g>
<text x="1428" y="771.8" font-weight="bold" font-size="57" fill="#93939b" textLength="126" lengthAdjust="spacingAndGlyphs">2005</text>
<text x="1428" y="825.8" font-weight="bold" font-size="57" fill="#b6b6be" textLength="126" lengthAdjust="spacingAndGlyphs">2006</text>
</svg>
</body></html>
